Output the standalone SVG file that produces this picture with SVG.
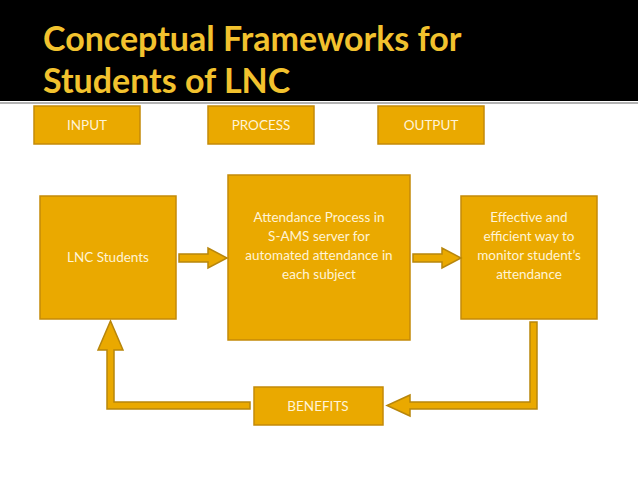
<svg xmlns="http://www.w3.org/2000/svg" width="638" height="479" viewBox="0 0 638 479">
<style>
.b{fill:#EAA900;stroke:#C48A08;stroke-width:1.5}
.t{font-family:Lato,"Open Sans",sans-serif;font-size:13.5px;fill:#FFF4D6;text-anchor:middle}
.a{fill:#EAA900;stroke:#B8860B;stroke-width:1.5;stroke-linejoin:miter}
.h{font-family:Lato,"Open Sans",sans-serif;font-size:34px;font-weight:bold;fill:#F2C22E}
</style>
<rect x="0" y="0" width="638" height="101" fill="#000"/>
<line x1="0" y1="103" x2="638" y2="103" stroke="#999" stroke-width="1.5"/>
<text class="h" x="43" y="51">Conceptual Frameworks for</text>
<text class="h" x="43" y="93">Students of LNC</text>
<g id="input"><rect class="b" x="34" y="106" width="106" height="38"/><text class="t" x="87" y="130">INPUT</text></g>
<g id="process"><rect class="b" x="208" y="106" width="106" height="38"/><text class="t" x="261" y="130">PROCESS</text></g>
<g id="output"><rect class="b" x="378" y="106" width="106" height="38"/><text class="t" x="431" y="130">OUTPUT</text></g>
<g id="students"><rect class="b" x="40" y="196" width="136" height="123"/><text class="t" x="108" y="262">LNC Students</text></g>
<g id="attendance"><rect class="b" x="228" y="175" width="182" height="165"/><text class="t" x="319" y="222">Attendance Process in</text><text class="t" x="319" y="241">S-AMS server for</text><text class="t" x="319" y="260">automated attendance in</text><text class="t" x="319" y="279">each subject</text></g>
<g id="effective"><rect class="b" x="461" y="196" width="136" height="123"/><text class="t" x="529" y="222">Effective and</text><text class="t" x="529" y="241">efficient way to</text><text class="t" x="529" y="260">monitor student’s</text><text class="t" x="529" y="279">attendance</text></g>
<g id="benefits"><rect class="b" x="254" y="387" width="129" height="38"/><text class="t" x="318" y="411">BENEFITS</text></g>
<g id="connectors">
<path class="a" d="M179,254 H208 V248 L227,258 L208,268 V262 H179 Z"/>
<path class="a" d="M413,254 H442 V248 L461,258 L442,268 V262 H413 Z"/>
<path class="a" d="M530,322 H537 V409 H410 V416 L387,405.5 L410,395 V402 H530 Z"/>
<path class="a" d="M250,402 H114 V350 H123 L110.5,321 L98,350 H107 V409 H250 Z"/>
</g>
</svg>
